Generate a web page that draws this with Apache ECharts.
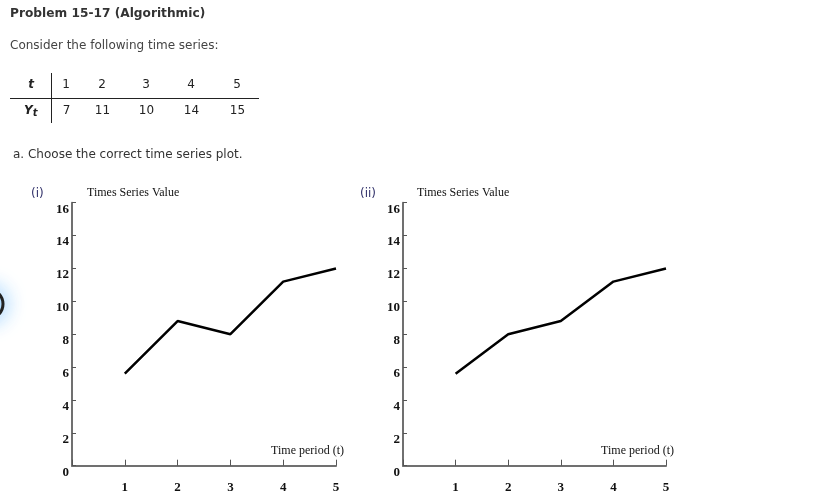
<!DOCTYPE html>
<html>
<head>
<meta charset="utf-8">
<script src="https://cdn.jsdelivr.net/npm/echarts@6/dist/echarts.min.js"></script>
<style>
html,body{margin:0;padding:0;background:#fff;}
#chart{width:828px;height:497px;}
</style>
</head>
<body>
<div id="chart"></div>
<script>
// ---- data ----
const periods = [1, 2, 3, 4, 5];
const tableValues = [7, 11, 10, 14, 15];
const plotIValues = [5.6, 8.8, 8.0, 11.2, 12.0];
const plotIIValues = [5.6, 8.0, 8.8, 11.2, 12.0];
const yTickLabels = ['0', '2', '4', '6', '8', '10', '12', '14', '16'];
const xTickLabels = ['', '1', '2', '3', '4', '5'];
const plotTags = ['(i)', '(ii)'];
const yName = 'Times Series Value';
const xName = 'Time period (t)';

const chart = echarts.init(document.getElementById('chart'), null, {renderer: 'canvas'});

const axisGray = '#707070';
const serif = '"Liberation Serif", "DejaVu Serif", serif';
const sans = '"DejaVu Sans", Verdana, sans-serif';

function xAxisCfg(idx) {
  return {
    type: 'value', gridIndex: idx, min: 0, max: 5, interval: 1,
    axisLine: {show: true, onZero: false, lineStyle: {color: axisGray, width: 2}},
    axisTick: {show: true, inside: true, length: 6, lineStyle: {color: '#555', width: 1}},
    splitLine: {show: false},
    axisLabel: {
      margin: 15, color: '#111', fontFamily: serif, fontWeight: 'bold', fontSize: 13,
      formatter: v => xTickLabels[Math.round(v)] || ''
    }
  };
}
function yAxisCfg(idx) {
  return {
    type: 'value', gridIndex: idx, min: 0, max: 16, interval: 2,
    axisLine: {show: true, onZero: false, lineStyle: {color: axisGray, width: 2}},
    axisTick: {show: true, inside: true, length: 4, lineStyle: {color: '#555', width: 1}},
    splitLine: {show: false},
    axisLabel: {
      margin: 3, color: '#111', fontFamily: serif, fontWeight: 'bold', fontSize: 13,
      verticalAlign: 'top',
      formatter: v => yTickLabels[Math.round(v / 2)]
    }
  };
}

// table texts
const tableX = [66, 102, 146, 191, 237];
const tableGraphics = [];
periods.forEach((p, i) => {
  tableGraphics.push({type: 'text', x: tableX[i], y: 85, style: {text: String(p), font: '12px ' + sans, fill: '#222', align: 'center', verticalAlign: 'middle'}});
});
tableValues.forEach((v, i) => {
  tableGraphics.push({type: 'text', x: tableX[i] + 0.5, y: 111, style: {text: String(v), font: '12px ' + sans, fill: '#222', align: 'center', verticalAlign: 'middle'}});
});

const option = {
  animation: false,
  backgroundColor: '#fff',
  grid: [
    {left: 72, top: 202.7, width: 264, height: 263},
    {left: 403, top: 202.7, width: 263, height: 263}
  ],
  xAxis: [xAxisCfg(0), xAxisCfg(1)],
  yAxis: [yAxisCfg(0), yAxisCfg(1)],
  series: [
    {
      type: 'line', xAxisIndex: 0, yAxisIndex: 0, symbol: 'none',
      lineStyle: {color: '#000', width: 2.5},
      data: periods.map((t, i) => [t, plotIValues[i]])
    },
    {
      type: 'line', xAxisIndex: 1, yAxisIndex: 1, symbol: 'none',
      lineStyle: {color: '#000', width: 2.5},
      data: periods.map((t, i) => [t, plotIIValues[i]])
    }
  ],
  graphic: [
    {type: 'text', x: 10, y: 14, style: {text: 'Problem 15-17 (Algorithmic)', font: 'bold 12.2px ' + sans, fill: '#333', verticalAlign: 'middle'}},
    {type: 'text', x: 10, y: 46, style: {text: 'Consider the following time series:', font: '12px ' + sans, fill: '#444', verticalAlign: 'middle'}},
    {type: 'text', x: 31, y: 85, style: {text: 't', font: 'italic bold 12px ' + sans, fill: '#222', align: 'center', verticalAlign: 'middle'}},
    {type: 'text', x: 24, y: 111, style: {
      text: '{y|Y}{s|t}', verticalAlign: 'middle',
      rich: {
        y: {font: 'italic bold 12px ' + sans, fill: '#222'},
        s: {font: 'italic bold 10px ' + sans, fill: '#222', padding: [5, 0, 0, 0]}
      }
    }},
    {type: 'line', shape: {x1: 10, y1: 98.5, x2: 259, y2: 98.5}, style: {stroke: '#222', lineWidth: 1}},
    {type: 'line', shape: {x1: 51.5, y1: 73, x2: 51.5, y2: 123}, style: {stroke: '#222', lineWidth: 1}},
    ...tableGraphics,
    {type: 'text', x: 13, y: 155, style: {text: 'a. Choose the correct time series plot.', font: '12px ' + sans, fill: '#333', verticalAlign: 'middle'}},
    // chart labels
    {type: 'text', x: 31, y: 194, style: {text: plotTags[0], font: '12px ' + sans, fill: '#33336b', verticalAlign: 'middle'}},
    {type: 'text', x: 87, y: 193, style: {text: yName, font: '12px ' + serif, fill: '#111', verticalAlign: 'middle'}},
    {type: 'text', x: 344, y: 451, style: {text: xName, font: '12px ' + serif, fill: '#111', align: 'right', verticalAlign: 'middle'}},
    {type: 'text', x: 360, y: 194, style: {text: plotTags[1], font: '12px ' + sans, fill: '#33336b', verticalAlign: 'middle'}},
    {type: 'text', x: 417, y: 193, style: {text: yName, font: '12px ' + serif, fill: '#111', verticalAlign: 'middle'}},
    {type: 'text', x: 674, y: 451, style: {text: xName, font: '12px ' + serif, fill: '#111', align: 'right', verticalAlign: 'middle'}},
    // glow circle at left edge
    {type: 'circle', shape: {cx: -12, cy: 304, r: 15}, style: {fill: 'rgba(120,200,255,0.25)', stroke: '#222', lineWidth: 3, shadowBlur: 20, shadowColor: 'rgba(30,150,255,1)'}}
  ]
};
chart.setOption(option);
</script>
</body>
</html>
